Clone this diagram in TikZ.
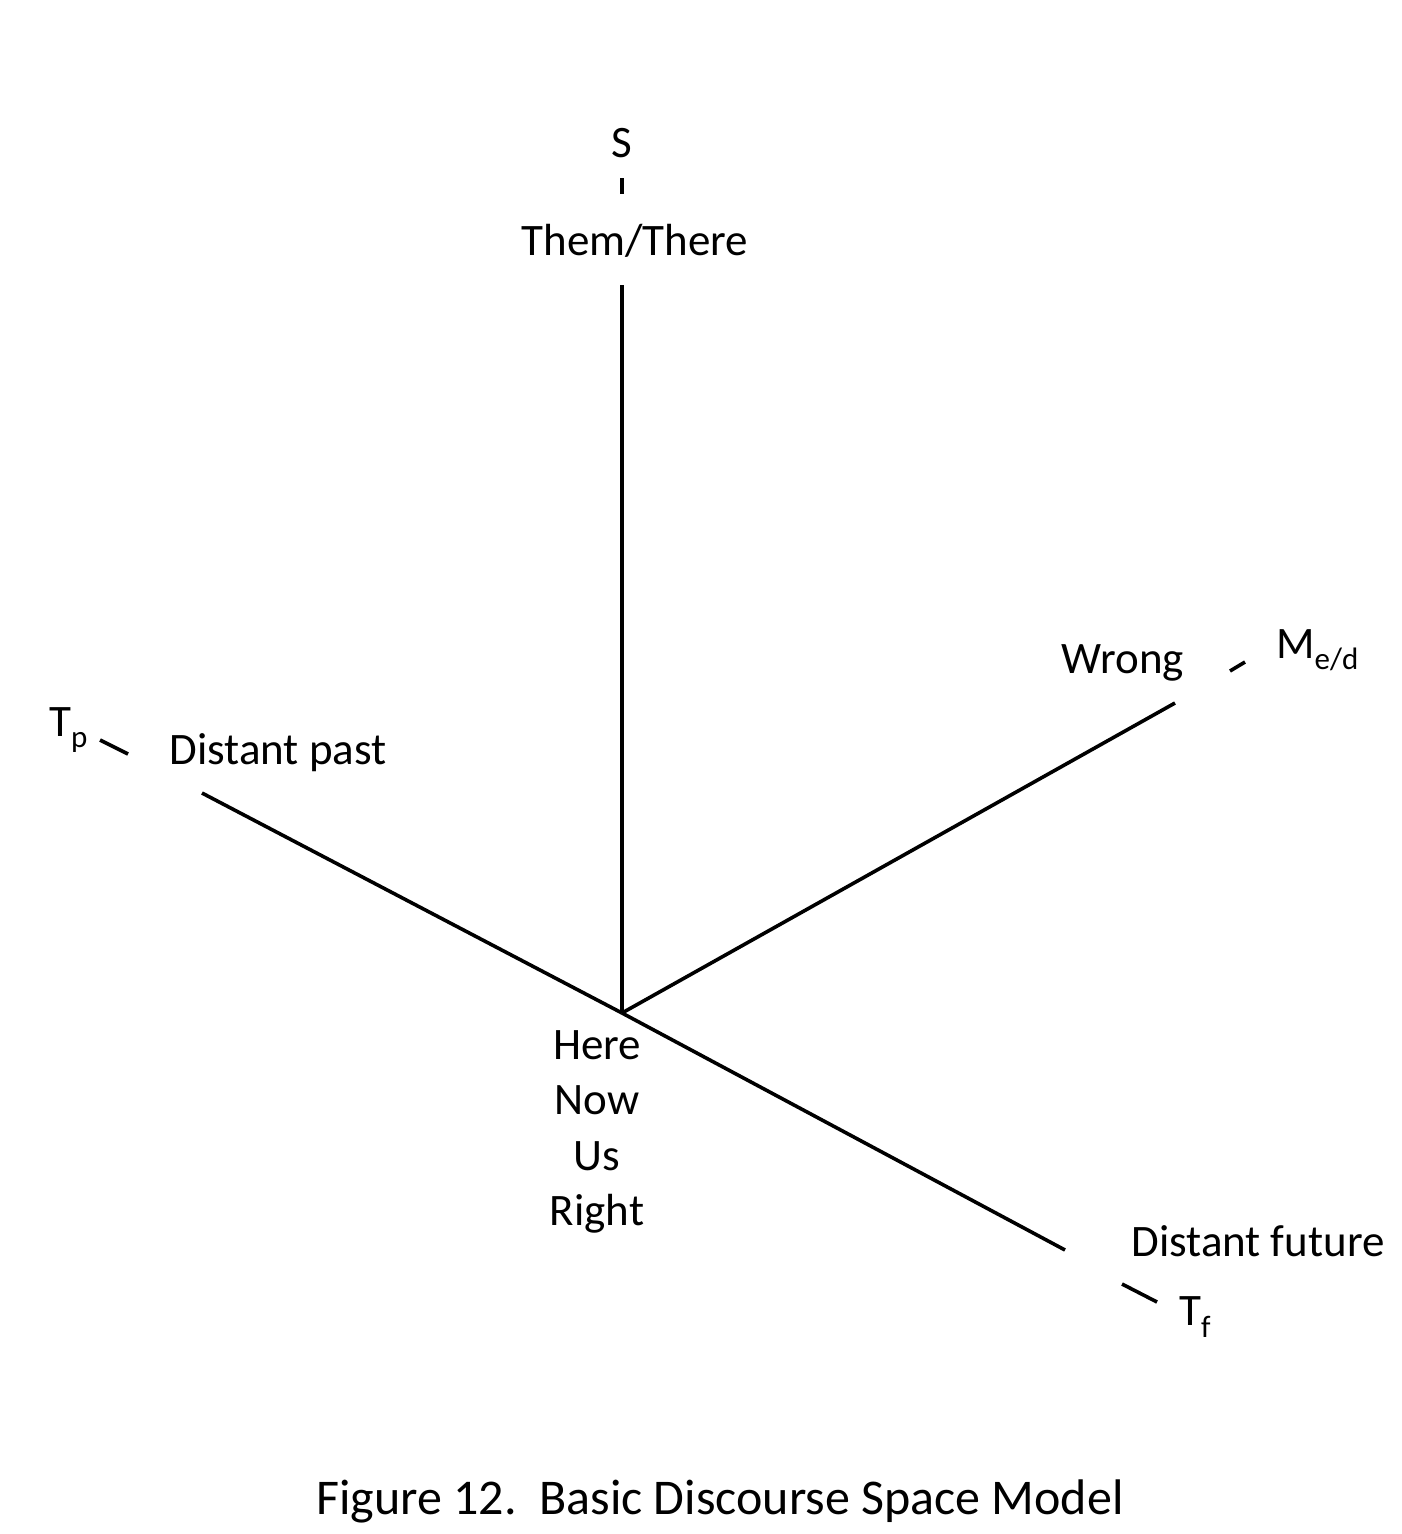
\documentclass[tikz,border=0pt]{standalone}
\usepackage{fontspec}
\setmainfont{Carlito}
\newcommand{\subtxt}[1]{\raisebox{-0.25em}{\fontsize{31}{31}\selectfont #1}}
\begin{document}
\begin{tikzpicture}[x=1pt,y=-1pt,
  axis/.style={line width=3.6pt},
  lbl/.style={inner sep=0pt,font=\fontsize{45}{55.5}\selectfont,text=black}]
\useasboundingbox (0,0) rectangle (1401,1534);
% origin and axis ends
\coordinate (O) at (622,1013);
\coordinate (up) at (622,285);
\coordinate (pastEnd) at (202,793);
\coordinate (wrongEnd) at (1175,703);
\coordinate (futEnd) at (1065,1250);
% tick dashes
\coordinate (sA) at (622,178);
\coordinate (sB) at (622,194);
\coordinate (tpA) at (100,740);
\coordinate (tpB) at (128,754);
\coordinate (mA) at (1230,671);
\coordinate (mB) at (1245,662);
\coordinate (tfA) at (1122,1284);
\coordinate (tfB) at (1157,1302);
\draw[axis] (O) -- (up);
\draw[axis] (O) -- (pastEnd);
\draw[axis] (O) -- (wrongEnd);
\draw[axis] (O) -- (futEnd);
\draw[axis] (sA) -- (sB);
\draw[axis] (tpA) -- (tpB);
\draw[axis] (mA) -- (mB);
\draw[axis] (tfA) -- (tfB);
% labels
\node[lbl] (S) at (622,143) {S};
\node[lbl] (them) at (635,241) {Them/There};
\node[lbl] (wrong) at (1123,663) {Wrong};
\node[lbl,anchor=west] (med) at (1276,650) {M\subtxt{e/d}};
\node[lbl,anchor=west] (tp) at (49,730) {T\subtxt{p}};
\node[lbl] (dpast) at (278,753) {Distant past};
\node[lbl,align=center] (here) at (597,1132) {Here\\Now\\Us\\Right};
\node[lbl] (dfut) at (1258,1241) {Distant future};
\node[lbl,anchor=west] (tf) at (1179,1317) {T\subtxt{f}};
\node[lbl,font=\fontsize{50}{60}\selectfont] (cap) at (720,1501) {Figure 12.\ \ Basic Discourse Space Model};
\end{tikzpicture}
\end{document}
